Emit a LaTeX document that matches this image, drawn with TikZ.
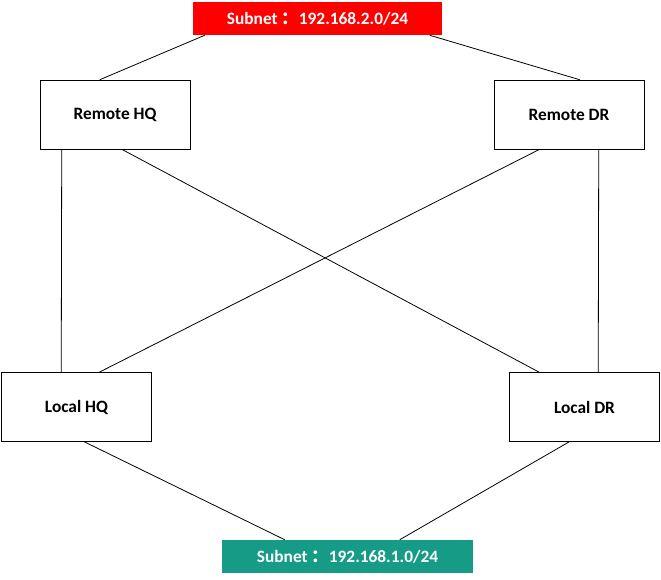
\documentclass[tikz,border=0pt]{standalone}
\usepackage{fontspec}
\setmainfont{Carlito}
\newfontfamily\cjkfont{Noto Sans CJK SC}
\definecolor{subred}{HTML}{FF0000}
\definecolor{subteal}{HTML}{169C86}
\begin{document}
\begin{tikzpicture}[x=0.75pt,y=-0.75pt,
  box/.style={draw,fill=white,minimum width=112.5pt,minimum height=51.75pt,inner sep=0pt,font=\bfseries\fontsize{13}{15}\selectfont},
  subnet/.style={minimum height=24.75pt,inner sep=0pt,text=white,font=\bfseries\fontsize{13}{15}\selectfont},
  link/.style={draw,line width=0.6pt}]
\useasboundingbox (0,0) rectangle (661,579);
\node[subnet,fill=subred,minimum width=186.75pt] (top) at (317.5,18.5) {Subnet {\cjkfont\bfseries ：}192.168.2.0/24};
\node[subnet,fill=subteal,minimum width=188.25pt] (bot) at (347.5,556.5) {Subnet {\cjkfont\bfseries ：}192.168.1.0/24};
\node[box] (rhq) at (115,114.5) {Remote HQ};
\node[box] (rdr) at (569,114.5) {Remote DR};
\node[box] (lhq) at (76.5,407) {Local HQ};
\node[box] (ldr) at (584.5,407) {Local DR};
\draw[link] ([xshift=9pt]top.south west) -- ([xshift=45pt]rhq.north west);
\draw[link] ([xshift=177.75pt]top.south west) -- ([xshift=64.5pt]rdr.north west);
\draw[link] ([xshift=16.5pt]rhq.south west) -- ([xshift=45pt]lhq.north west);
\draw[link] ([xshift=61.5pt]rhq.south west) -- ([xshift=22.5pt]ldr.north west);
\draw[link] ([xshift=34.5pt]rdr.south west) -- ([xshift=73.5pt]lhq.north west);
\draw[link] ([xshift=78.75pt]rdr.south west) -- ([xshift=66.75pt]ldr.north west);
\draw[link] ([xshift=62.25pt]lhq.south west) -- ([xshift=47.25pt]bot.north west);
\draw[link] ([xshift=45pt]ldr.south west) -- ([xshift=133.5pt]bot.north west);
\end{tikzpicture}
\end{document}
